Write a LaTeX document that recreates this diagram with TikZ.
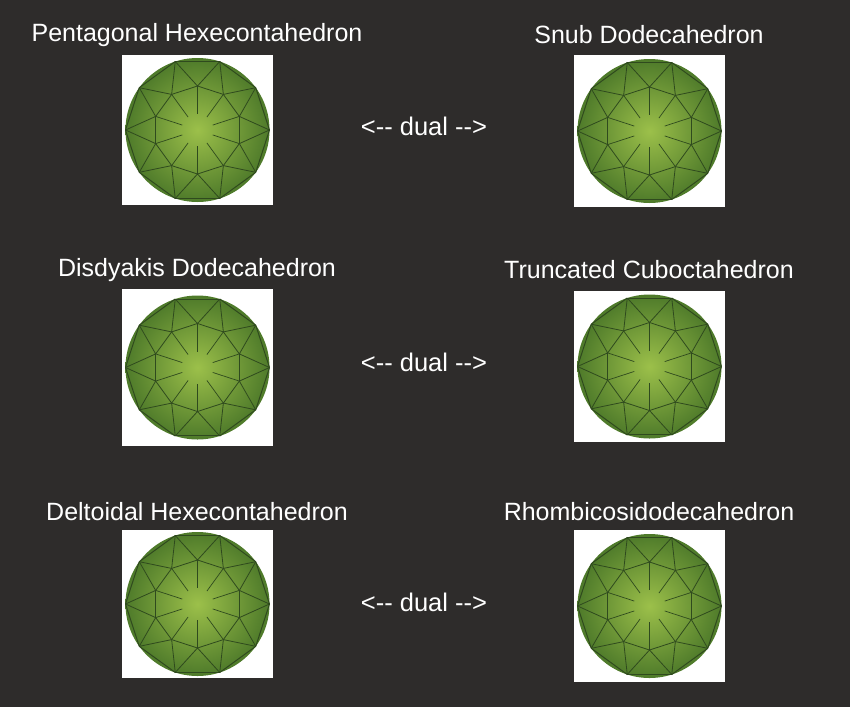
\documentclass[tikz,border=0pt]{standalone}
\usepackage{fontspec}
\setmainfont{Liberation Sans}
\definecolor{bg}{HTML}{2E2C2B}
\definecolor{pgreen}{HTML}{78A83A}
\definecolor{plight}{HTML}{9CC04A}
\definecolor{pdark}{HTML}{4E7A2A}
\definecolor{pedge}{HTML}{2F4A1E}
\tikzset{
  ttl/.style={text=white,font=\fontsize{25}{28}\selectfont},
  dual/.style={text=white,font=\fontsize{25.5}{28}\selectfont},
  imgbox/.style={fill=white,draw=none,minimum width=151pt,inner sep=0pt},
  poly/.pic={
    \shade[inner color=plight,outer color=pdark] (0,0) circle (72pt);
    \foreach \a in {0,36,...,324}{
      \draw[pedge,line width=1pt] (\a:72pt) -- (\a+36:72pt);
      \draw[pedge,line width=0.8pt] (\a:72pt) -- (\a+18:44pt) -- (\a+36:72pt);
      \draw[pedge,line width=0.8pt] (\a+18:44pt) -- (\a+54:44pt);
      \draw[pedge,line width=0.7pt] (\a+18:44pt) -- (\a+18:16pt);
    }
  }
}
\begin{document}
\begin{tikzpicture}[x=1pt,y=-1pt]
\fill[bg] (0,0) rectangle (850,707);
\useasboundingbox (0,0) rectangle (850,707);
% row 1
\node[ttl] (t1) at (197,35) {Pentagonal Hexecontahedron};
\node[ttl] (t2) at (649,35) {Snub Dodecahedron};
\node[imgbox,minimum height=150pt] (b1) at (197.5,130) {};
\node[imgbox,minimum height=152pt] (b2) at (649.5,131) {};
\pic at (b1) {poly};
\pic at (b2) {poly};
\node[dual] (d1) at (424,126) {<-{}- dual -{}->};
% row 2
\node[ttl] (t3) at (197,270) {Disdyakis Dodecahedron};
\node[ttl] (t4) at (649,270) {Truncated Cuboctahedron};
\node[imgbox,minimum height=157pt] (b3) at (197.5,367.5) {};
\node[imgbox,minimum height=151pt] (b4) at (649.5,366.5) {};
\pic at (b3) {poly};
\pic at (b4) {poly};
\node[dual] (d2) at (424,362) {<-{}- dual -{}->};
% row 3
\node[ttl] (t5) at (197,512) {Deltoidal Hexecontahedron};
\node[ttl] (t6) at (649,512) {Rhombicosidodecahedron};
\node[imgbox,minimum height=148pt] (b5) at (197.5,604) {};
\node[imgbox,minimum height=152pt] (b6) at (649.5,606) {};
\pic at (b5) {poly};
\pic at (b6) {poly};
\node[dual] (d3) at (424,602) {<-{}- dual -{}->};
\end{tikzpicture}
\end{document}
